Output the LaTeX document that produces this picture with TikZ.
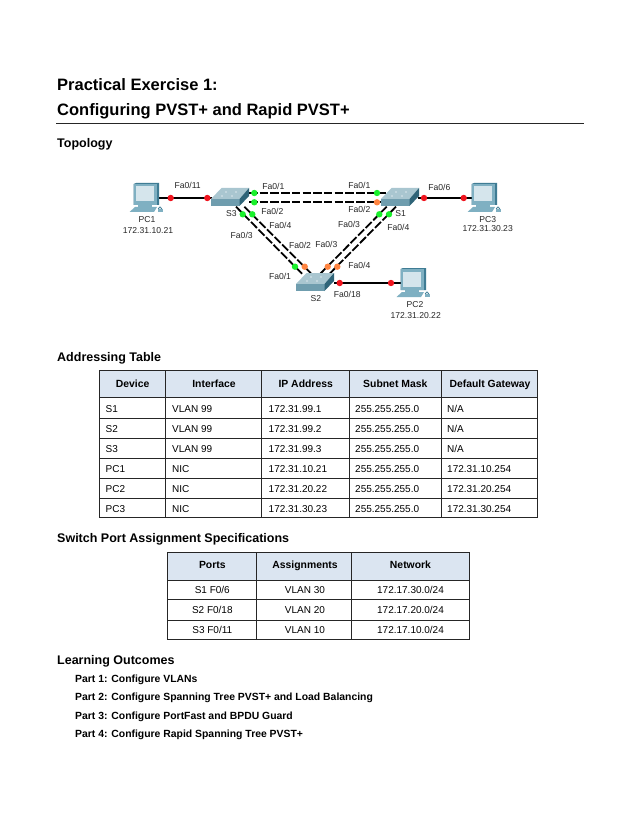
\documentclass[tikz,border=0pt]{standalone}
\usepackage{fontspec}
\setmainfont{Liberation Sans}
\definecolor{headfill}{HTML}{DBE5F1}
\definecolor{swtop}{HTML}{A9C6D0}
\definecolor{swfront}{HTML}{6F9DAE}
\definecolor{swside}{HTML}{2F6478}
\definecolor{pcbody}{HTML}{7FB0C2}
\definecolor{pcscreen}{HTML}{D5E5EC}
\definecolor{pcdark}{HTML}{3F7C94}
\definecolor{portgreen}{HTML}{19F02B}
\definecolor{portorange}{HTML}{FF8440}
\definecolor{portred}{HTML}{F0141E}
\tikzset{
 x=1pt,y=-1pt,
 title/.style={anchor=base west,inner sep=0pt,font=\fontsize{16.5}{17}\selectfont\bfseries},
 heading/.style={anchor=base west,inner sep=0pt,font=\fontsize{12.5}{13}\selectfont\bfseries},
 partline/.style={anchor=base west,inner sep=0pt,font=\fontsize{10.4}{11}\selectfont\bfseries},
 lab/.style={inner sep=0pt,text=black!85,font=\fontsize{8.6}{9}\selectfont},
 solidlink/.style={line width=1.8pt,black},
 dashlink/.style={line width=1.8pt,black,dash pattern=on 8.5pt off 2.2pt},
 gport/.style={circle,fill=portgreen,inner sep=0pt,minimum size=6.4pt},
 oport/.style={circle,fill=portorange,inner sep=0pt,minimum size=6.4pt},
 rport/.style={circle,fill=portred,inner sep=0pt,minimum size=6.4pt},
 ctext/.style={inner sep=0pt,font=\fontsize{10}{10}\selectfont},
 hctext/.style={inner sep=0pt,anchor=base,font=\fontsize{10.4}{11}\selectfont\bfseries},
 ltext/.style={anchor=base west,inner sep=0pt,font=\fontsize{10}{10}\selectfont},
 switchicon/.pic={
  \fill[swtop] (-29,-11) -- (-18.5,-22) -- (9,-22) -- (-.5,-11) -- cycle;
  \fill[swfront] (-29,-11) -- (-.5,-11) -- (-.5,-4) -- (-29,-4) -- cycle;
  \fill[swside] (-.5,-11) -- (9,-22) -- (9,-14) -- (-.5,-4) -- cycle;
  \fill[white,opacity=.6] (-14,-18) circle (.8) (-4,-18) circle (.8) (-18,-14) circle (.8) (-8,-14) circle (.8);
 },
 pcicon/.pic={
  \fill[pcdark] (-13.5,-14) -- (-11,-15) -- (12,-15) -- (12,7) -- (-13.5,7) -- cycle;
  \fill[pcbody] (-13.5,-14) -- (9.5,-14) -- (9.5,7) -- (-13.5,7) -- cycle;
  \fill[pcscreen] (-11,-11.5) rectangle (7,3.5);
  \fill[pcbody] (-9,7) rectangle (5,9);
  \fill[pcbody] (-12,9) -- (10,9) -- (7,14) -- (-17.5,14) -- cycle;
  \draw[pcdark,line width=.7pt] (13,10.5) circle (1.6);
  \fill[pcbody] (11,11) rectangle (15.5,14);
 },
}
\begin{document}
\begin{tikzpicture}[line cap=butt]
\useasboundingbox (0,0) rectangle (638,826);
\fill[white] (0,0) rectangle (638,826);

% Headings
\node[title] (t1) at (57,91) {Practical Exercise 1:};
\node[title] (t2) at (57,116) {Configuring PVST+ and Rapid PVST+};
\coordinate (ruleL) at (56,124);
\coordinate (ruleR) at (584,124);
\draw[line width=1pt,black!85] (ruleL) -- (ruleR);
\node[heading] (h1) at (57,148) {Topology};
\node[heading] (h2) at (57,361) {Addressing Table};
\node[heading] (h3) at (57,542) {Switch Port Assignment Specifications};
\node[heading] (h4) at (57,664) {Learning Outcomes};
\node[partline] (p1) at (75,682) {Part 1: Configure VLANs};
\node[partline] (p2) at (75,700) {Part 2: Configure Spanning Tree PVST+ and Load Balancing};
\node[partline] (p3) at (75,719) {Part 3: Configure PortFast and BPDU Guard};
\node[partline] (p4) at (75,737) {Part 4: Configure Rapid Spanning Tree PVST+};

% Topology anchors
\coordinate (pc1) at (147,198);
\coordinate (pc2) at (414,283);
\coordinate (pc3) at (485,198);
\coordinate (s1) at (410,210);
\coordinate (s2) at (325,295);
\coordinate (s3) at (240,210);
\coordinate (s3r1) at (249,193);
\coordinate (s3r2) at (249,202.3);
\coordinate (s1l1) at (387,193);
\coordinate (s1l2) at (383,202.3);
\coordinate (s3d1) at (236,206.7);
\coordinate (s3d2) at (244.3,206.7);
\coordinate (s2u1) at (303.3,275);
\coordinate (s2u2) at (311.7,274);
\coordinate (s1d1) at (386.7,206.7);
\coordinate (s1d2) at (396,206.7);
\coordinate (s2v1) at (320,274);
\coordinate (s2v2) at (329.3,274);
\coordinate (pc1e) at (158,198);
\coordinate (s3w) at (212,198);
\coordinate (s1e) at (418,198);
\coordinate (pc3w) at (475,198);
\coordinate (s2e) at (334,283);
\coordinate (pc2w) at (402,283);

% Links
\draw[solidlink] (pc1e) -- (s3w);
\draw[solidlink] (s1e) -- (pc3w);
\draw[solidlink] (s2e) -- (pc2w);
\draw[dashlink] (s3r1) -- (s1l1);
\draw[dashlink] (s3r2) -- (s1l2);
\draw[dashlink] (s3d1) -- (s2u1);
\draw[dashlink] (s3d2) -- (s2u2);
\draw[dashlink] (s1d1) -- (s2v1);
\draw[dashlink] (s1d2) -- (s2v2);

% Devices
\pic at (pc1) {pcicon};
\pic at (pc2) {pcicon};
\pic at (pc3) {pcicon};
\pic at (s1) {switchicon};
\pic at (s2) {switchicon};
\pic at (s3) {switchicon};

% Ports
\node[rport] (d1) at (170.7,198) {};
\node[rport] (d2) at (207.3,198) {};
\node[rport] (d3) at (424,198) {};
\node[rport] (d4) at (463.7,198) {};
\node[rport] (d5) at (339.7,283) {};
\node[rport] (d6) at (391,283) {};
\node[gport] (d7) at (254.3,193) {};
\node[gport] (d8) at (254.3,202.3) {};
\node[gport] (d9) at (377,193) {};
\node[oport] (d10) at (377,202.3) {};
\node[gport] (d11) at (242.7,214.3) {};
\node[gport] (d12) at (252.3,214.3) {};
\node[gport] (d13) at (295,266.7) {};
\node[oport] (d14) at (304.7,266.7) {};
\node[gport] (d15) at (379.3,214.3) {};
\node[gport] (d16) at (389,214.3) {};
\node[oport] (d17) at (327.7,266.7) {};
\node[oport] (d18) at (337.3,266.7) {};

% Topology labels
\node[lab] (l1) at (187.7,185.7) {Fa0/11};
\node[lab] (l2) at (273.3,186.3) {Fa0/1};
\node[lab] (l3) at (272.3,211.3) {Fa0/2};
\node[lab] (l4) at (280.3,225) {Fa0/4};
\node[lab] (l5) at (241.7,235) {Fa0/3};
\node[lab] (l6) at (300,245) {Fa0/2};
\node[lab] (l7) at (280,276.3) {Fa0/1};
\node[lab] (l8) at (231.3,213.7) {S3};
\node[lab] (l9) at (147,219.3) {PC1};
\node[lab] (l10) at (148,230.3) {172.31.10.21};
\node[lab] (l11) at (359.3,185.7) {Fa0/1};
\node[lab] (l12) at (359.3,209) {Fa0/2};
\node[lab] (l13) at (400.7,213.7) {S1};
\node[lab] (l14) at (349,224) {Fa0/3};
\node[lab] (l15) at (398.3,227) {Fa0/4};
\node[lab] (l16) at (326.3,244.3) {Fa0/3};
\node[lab] (l17) at (359.3,265.7) {Fa0/4};
\node[lab] (l18) at (439.3,187.3) {Fa0/6};
\node[lab] (l19) at (487.7,219.3) {PC3};
\node[lab] (l20) at (487.7,228.7) {172.31.30.23};
\node[lab] (l21) at (316,298.7) {S2};
\node[lab] (l22) at (347.3,294.3) {Fa0/18};
\node[lab] (l23) at (415,304.3) {PC2};
\node[lab] (l24) at (415.7,316) {172.31.20.22};

% Addressing table frame
\fill[headfill] (99.5,370.7) rectangle (537.7,397.7);
\draw[line width=.9pt,black!85]
 (99.5,370.7) rectangle (537.7,517.7)
 (99.5,397.7) -- (537.7,397.7) (99.5,418.3) -- (537.7,418.3) (99.5,438.3) -- (537.7,438.3)
 (99.5,458.3) -- (537.7,458.3) (99.5,478.3) -- (537.7,478.3) (99.5,498.3) -- (537.7,498.3)
 (165.7,370.7) -- (165.7,517.7) (261.7,370.7) -- (261.7,517.7)
 (349.7,370.7) -- (349.7,517.7) (441,370.7) -- (441,517.7);
\foreach \cx/\txt in {132.6/Device,214/Interface,305.7/IP Address,395.3/Subnet Mask,490/Default Gateway}
 \node[hctext] at (\cx,387.6) {\txt};
\foreach \yy/\a/\b/\c/\d/\e in {
 412/S1/VLAN 99/172.31.99.1/255.255.255.0/N\slash A,
 432/S2/VLAN 99/172.31.99.2/255.255.255.0/N\slash A,
 452/S3/VLAN 99/172.31.99.3/255.255.255.0/N\slash A,
 472/PC1/NIC/172.31.10.21/255.255.255.0/172.31.10.254,
 492/PC2/NIC/172.31.20.22/255.255.255.0/172.31.20.254,
 512/PC3/NIC/172.31.30.23/255.255.255.0/172.31.30.254}{
 \node[ltext] at (105.5,\yy) {\a};
 \node[ltext] at (172,\yy) {\b};
 \node[ltext] at (268.5,\yy) {\c};
 \node[ltext] at (355,\yy) {\d};
 \node[ltext] at (447,\yy) {\e};
}

% Port table frame
\fill[headfill] (167.7,552.3) rectangle (469.3,580);
\draw[line width=.9pt,black!85]
 (167.7,552.3) rectangle (469.3,639.7)
 (167.7,580) -- (469.3,580) (167.7,599.7) -- (469.3,599.7) (167.7,620) -- (469.3,620)
 (256.3,552.3) -- (256.3,639.7) (351.7,552.3) -- (351.7,639.7);
\foreach \cx/\txt in {212.3/Ports,305/Assignments,410.5/Network}
 \node[hctext] at (\cx,568.5) {\txt};
\foreach \yy/\a/\b/\c in {
 593.5/S1 F0\slash 6/VLAN 30/172.17.30.0\slash 24,
 613.5/S2 F0\slash 18/VLAN 20/172.17.20.0\slash 24,
 633.5/S3 F0\slash 11/VLAN 10/172.17.10.0\slash 24}{
 \node[ctext,anchor=base] at (212.3,\yy) {\a};
 \node[ctext,anchor=base] at (305,\yy) {\b};
 \node[ctext,anchor=base] at (410.5,\yy) {\c};
}
\end{tikzpicture}
\end{document}
